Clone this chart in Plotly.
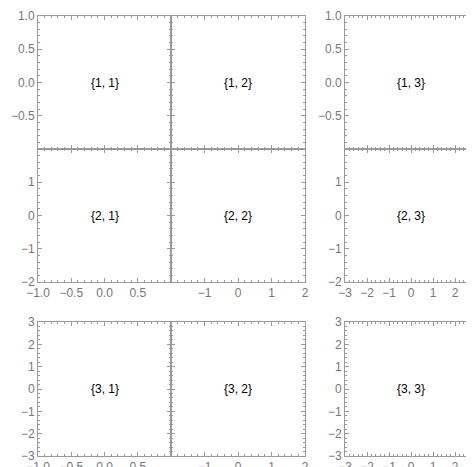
import plotly.graph_objects as go

# Rangos de cada fila / columna (estilo cuadrícula de Mathematica)
x_ranges = [[-1, 1], [-2, 2], [-3, 3]]
y_ranges = [[-1, 1], [-2, 2], [-3, 3]]
x_ticks = [[-1.0, -0.5, 0.0, 0.5], [-1, 0, 1, 2], [-3, -2, -1, 0, 1, 2, 3]]
x_ticktext = [["−1.0", "−0.5", "0.0", "0.5"], ["−1", "0", "1", "2"], ["−3", "−2", "−1", "0", "1", "2", "3"]]
y_ticks = [[-0.5, 0.0, 0.5, 1.0], [-2, -1, 0, 1], [-3, -2, -1, 0, 1, 2, 3]]
y_ticktext = [["−0.5", "0.0", "0.5", "1.0"], ["−2", "−1", "0", "1"], ["−3", "−2", "−1", "0", "1", "2", "3"]]
x_minor = [0.1, 0.2, 0.2]
y_minor = [0.1, 0.2, 0.2]

W, H = 474, 467
col_px = [(30, 163), (163, 297), (337, 469)]
row_px = [(8, 141), (141, 274), (314, 448)]

fig = go.Figure()
gris = "#9a9a9a"
n = 0
for i in range(3):
    for j in range(3):
        n += 1
        suf = "" if n == 1 else str(n)
        fig.add_trace(go.Scatter(x=[None], y=[None], xaxis="x" + suf, yaxis="y" + suf, showlegend=False))
        # etiquetas sólo en el borde inferior de cada bloque y columna izquierda de cada bloque
        show_x = i in (1, 2)
        show_y = j in (0, 2)
        comun = dict(showgrid=False, zeroline=False, showline=True, linecolor=gris, linewidth=1,
                     mirror="allticks", ticks="inside", ticklen=4, tickcolor=gris, automargin=False,
                     tickfont=dict(family="Liberation Sans", size=12, color="#777"))
        fig.layout["xaxis" + suf] = dict(
            comun, domain=[col_px[j][0] / W, col_px[j][1] / W], range=x_ranges[j],
            anchor="y" + suf, tickvals=x_ticks[j], ticktext=x_ticktext[j], showticklabels=show_x,
            minor=dict(dtick=x_minor[j], ticks="inside", ticklen=2, tickcolor=gris))
        fig.layout["yaxis" + suf] = dict(
            comun, domain=[1 - row_px[i][1] / H, 1 - row_px[i][0] / H], range=y_ranges[i],
            anchor="x" + suf, tickvals=y_ticks[i], ticktext=y_ticktext[i], showticklabels=show_y,
            minor=dict(dtick=y_minor[i], ticks="inside", ticklen=2, tickcolor=gris))
        fig.add_annotation(text="{%d, %d}" % (i + 1, j + 1), x=0, y=0, xref="x" + suf, yref="y" + suf,
                           showarrow=False, font=dict(family="Liberation Sans", size=12, color="black"))

fig.update_layout(width=W, height=H, margin=dict(l=0, r=0, t=0, b=0, autoexpand=False),
                  plot_bgcolor="white", paper_bgcolor="white")
fig.write_html("out.html")
